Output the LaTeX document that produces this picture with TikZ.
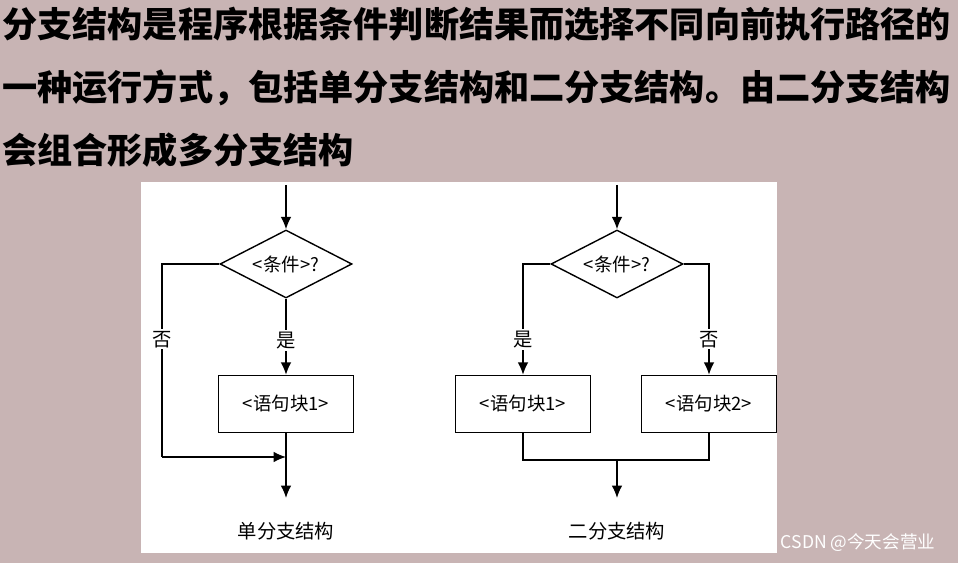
\documentclass[tikz,border=0pt]{standalone}
\usepackage{fontspec}
\usetikzlibrary{shapes.geometric,arrows.meta}
\setmainfont{Noto Sans CJK SC}

\tikzset{
  flow/.style={draw, thick, -{Latex[length=7pt,width=6pt]}},
  plain/.style={draw, thick},
  blockbox/.style={draw, thick, minimum width=2.7cm, minimum height=1.14cm, font=\fontsize{10.5}{12}\selectfont},
  decide/.style={draw, thick, diamond, aspect=1.95, minimum width=2.64cm, minimum height=1.36cm, inner sep=0pt, font=\fontsize{10.5}{12}\selectfont},
  lbl/.style={font=\fontsize{11}{12}\selectfont, fill=white, inner sep=1pt},
  headline/.style={anchor=west, font=\fontsize{20}{22}\selectfont\bfseries, inner sep=0pt}
}

\begin{document}
\begin{tikzpicture}[x=0.02cm, y=-0.02cm]
\fill[fill={rgb,255:red,200;green,180;blue,180}] (0,0) rectangle (958,563);
\useasboundingbox (0,0) rectangle (958,563);

% heading
\node[headline] (h1) at (2,24) {分支结构是程序根据条件判断结果而选择不同向前执行路径的};
\node[headline] (h2) at (2,88) {一种运行方式，包括单分支结构和二分支结构。由二分支结构};
\node[headline] (h3) at (2,150) {会组合形成多分支结构};

\fill[white] (141,182) rectangle (777,553);

% single branch
\coordinate (s0) at (286,185);
\node[decide] (sd) at (286,264) {<条件>?};
\node[blockbox] (sb) at (286,404) {<语句块1>};
\coordinate (sl) at (162,264);
\coordinate (sm) at (162,457);
\coordinate (sj) at (286,457);
\coordinate (se) at (286,498);
\draw[flow] (s0) -- (sd.north);
\draw[flow] (sd.south) -- node[lbl, pos=0.55] {是} (sb.north);
\draw[plain] (sd.west) -- (sl) -- node[lbl, pos=0.39] {否} (sm);
\draw[flow] (sm) -- (sj);
\draw[flow] (sb.south) -- (se);
\node[font=\fontsize{11}{12}\selectfont] (st) at (286,531) {单分支结构};

% two branches
\coordinate (t0) at (617,185);
\node[decide] (td) at (617,264) {<条件>?};
\node[blockbox] (tb1) at (523,404) {<语句块1>};
\node[blockbox] (tb2) at (709,404) {<语句块2>};
\coordinate (tl) at (523,264);
\coordinate (tr) at (709,264);
\coordinate (tl2) at (523,460);
\coordinate (tr2) at (709,460);
\coordinate (tj) at (617,460);
\coordinate (te) at (617,498);
\draw[flow] (t0) -- (td.north);
\draw[flow] (td.west) -- (tl) -- node[lbl, pos=0.68] {是} (tb1.north);
\draw[flow] (td.east) -- (tr) -- node[lbl, pos=0.68] {否} (tb2.north);
\draw[plain] (tb1.south) -- (tl2) -- (tr2) -- (tb2.south);
\draw[flow] (tj) -- (te);
\node[font=\fontsize{11}{12}\selectfont] (tt) at (617,531) {二分支结构};

\node[text=white, font=\fontsize{10}{12}\selectfont] (wm) at (858,543) {CSDN @今天会营业};
\end{tikzpicture}
\end{document}
